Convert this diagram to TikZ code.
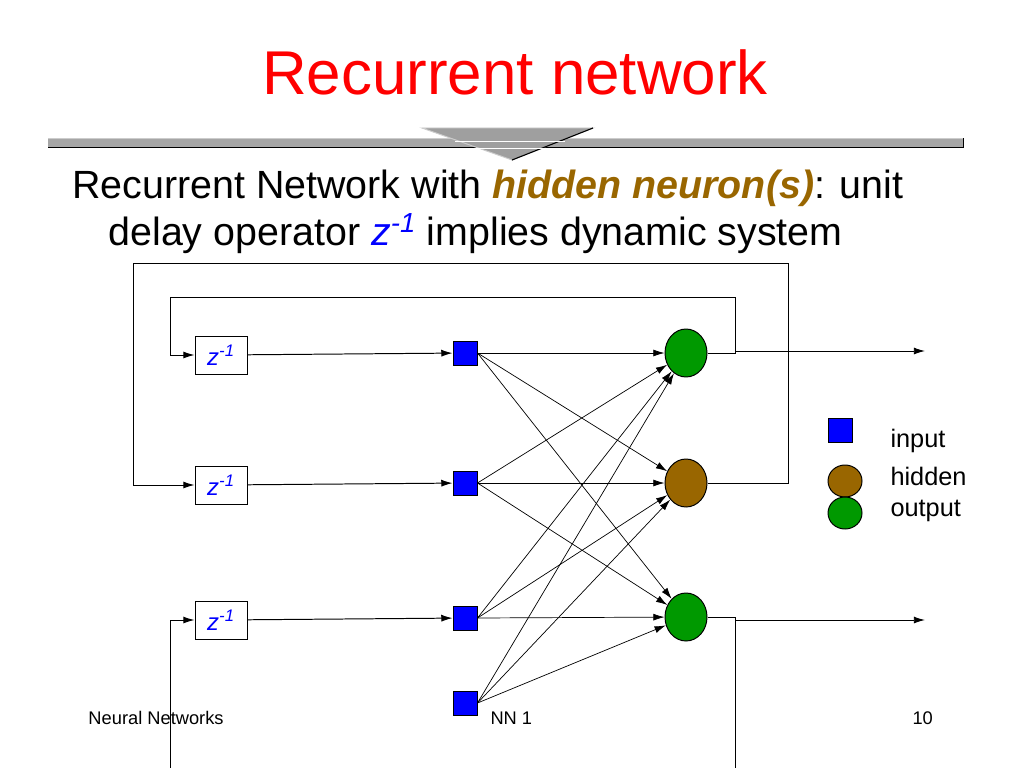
\documentclass[tikz,border=0pt]{standalone}
\usepackage{fontspec}
\setmainfont{Liberation Sans}
\usetikzlibrary{arrows.meta,shapes.geometric}
\definecolor{hidbrown}{HTML}{996600}
\definecolor{outgreen}{HTML}{009900}
\begin{document}
\begin{tikzpicture}[x=0.025cm,y=-0.025cm,
  delay/.style={draw,fill=white,minimum width=52*0.025cm,minimum height=38*0.025cm,inner sep=0pt,font=\fontsize{17}{17}\selectfont},
  inp/.style={draw,fill=blue,minimum size=24*0.025cm,inner sep=0pt},
  neuron/.style={draw,ellipse,minimum width=42*0.025cm,minimum height=48*0.025cm,inner sep=0pt},
  lg/.style={draw,ellipse,minimum width=34*0.025cm,minimum height=32*0.025cm,inner sep=0pt},
  arr/.style={-{Latex[length=8pt,width=5pt]}},
  every path/.style={line width=0.7pt}]
\useasboundingbox (0,0) rectangle (1024,768);
% title and bar
\node[red,font=\fontsize{44}{44}\selectfont] (title) at (515,72) {Recurrent network};
\fill[gray!70] (48,138) rectangle (963,147);
\draw[gray!40] (48,138) -- (963,138);
\draw[black] (48,147) -- (963,147) -- (963,138);
\fill[gray!75,draw=gray!40] (422,128) -- (593,128) -- (512,160) -- cycle;
\draw[black,thick] (593,128) -- (512,160);
\draw[white] (455,141) -- (565,141);
\draw[white] (470,148) -- (550,148);
% text
\node[anchor=base west,font=\fontsize{28}{28}\selectfont,inner sep=0pt] (l1) at (72,198)
  {Recurrent Network with \textcolor{hidbrown}{\textbf{\textit{hidden neuron(s)}}}: unit};
\node[anchor=base west,font=\fontsize{28}{28}\selectfont,inner sep=0pt] (l2) at (108,245)
  {delay operator \textcolor{blue}{\textit{z}\textsuperscript{\textit{-1}}} implies dynamic system};
% delays, inputs, neurons
\foreach \i/\y in {1/355,2/485,3/620}
  \node[delay] (z\i) at (221,\y) {\textcolor{blue}{\textit{z}\textsuperscript{\textit{-1}}}};
\foreach \i/\y in {1/353,2/483,3/618,4/703}
  \node[inp] (in\i) at (465,\y) {};
\node[neuron,fill=outgreen] (o1) at (686,353) {};
\node[neuron,fill=hidbrown] (h) at (686,483) {};
\node[neuron,fill=outgreen] (o2) at (686,617) {};
\foreach \i in {1,2,3}
  \draw[arr] (z\i) -- (in\i);
\foreach \i in {1,2,3,4}
  \foreach \n in {o1,h,o2}
    \draw[arr,line width=0.5pt] (in\i.east) -- (\n);
% feedback loops and outputs
\coordinate (out1) at (925,351);
\coordinate (out2) at (925,620);
\draw[arr] (o1.east) -- (735,353) -- (735,297) -- (170,297) -- (170,355) -- (z1.west);
\draw[arr] (735,351) -- (out1);
\draw (h.east) -- (788,483) -- (788,263) -- (133,263) -- (133,485);
\draw[arr] (133,485) -- (z2.west);
\draw (o2.east) -- (735,617) -- (735,768);
\draw[arr] (735,620) -- (out2);
\draw[arr] (170,768) -- (170,620) -- (z3.west);
% legend
\node[inp] (lin) at (840,430) {};
\node[lg,fill=hidbrown] (lhid) at (845,481) {};
\node[lg,fill=outgreen] (lout) at (845,513) {};
\foreach \n/\t/\y in {a/input/441,b/hidden/476,c/output/511}
  \node[anchor=west,font=\fontsize{18}{18}\selectfont,inner sep=0pt] (t\n) at (890,\y) {\t};
% footer
\node[anchor=west,font=\fontsize{13}{13}\selectfont,inner sep=0pt] (f1) at (88,718) {Neural Networks};
\node[anchor=west,font=\fontsize{13}{13}\selectfont,inner sep=0pt] (f2) at (490,718) {NN 1};
\node[anchor=west,font=\fontsize{13}{13}\selectfont,inner sep=0pt] (f3) at (912,718) {10};
\end{tikzpicture}
\end{document}
